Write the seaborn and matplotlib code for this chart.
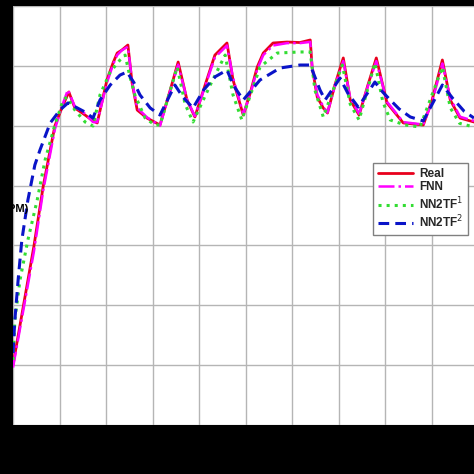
import numpy as np
import pandas as pd
import matplotlib
matplotlib.use("Agg")
import matplotlib.pyplot as plt
import seaborn as sns

# Speed traces (time in s, speed in RPM)
t_real = [0.00, 0.45, 0.65, 0.90, 1.05, 1.20, 1.33, 1.55, 1.72, 1.81, 2.02, 2.15, 2.24, 2.34,
          2.47, 2.56, 2.67, 2.88, 3.16, 3.38, 3.55, 3.74, 3.91, 4.13, 4.34, 4.60, 4.73, 4.95,
          5.10, 5.25, 5.38, 5.59, 5.89, 6.17, 6.39, 6.43, 6.54, 6.67, 6.76, 6.92, 7.10, 7.25,
          7.44, 7.63, 7.81, 8.04, 8.39, 8.82, 9.01, 9.23, 9.40, 9.61, 9.91]
rpm_real = [501, 1495, 1996, 2498, 2648, 2782, 2648, 2589, 2540, 2523, 2882, 3024, 3107, 3132,
            3174, 2857, 2631, 2564, 2506, 2798, 3032, 2715, 2573, 2840, 3090, 3191, 2882, 2589,
            2773, 2990, 3107, 3191, 3199, 3195, 3216, 2990, 2740, 2648, 2606, 2840, 3066, 2715,
            2589, 2840, 3066, 2690, 2523, 2506, 2715, 3049, 2715, 2564, 2531]

t_fnn = [0.00, 0.45, 0.65, 0.90, 1.05, 1.18, 1.33, 1.55, 1.72, 1.81, 2.02, 2.15, 2.24, 2.34,
         2.47, 2.56, 2.67, 2.88, 3.16, 3.38, 3.55, 3.74, 3.91, 4.13, 4.34, 4.60, 4.73, 4.95,
         5.10, 5.25, 5.38, 5.59, 5.89, 6.17, 6.39, 6.43, 6.54, 6.67, 6.76, 6.92, 7.10, 7.25,
         7.44, 7.63, 7.81, 8.04, 8.39, 8.82, 9.01, 9.23, 9.40, 9.61, 9.91]
rpm_fnn = [480, 1450, 1960, 2470, 2660, 2800, 2660, 2600, 2530, 2530, 2860, 3010, 3090, 3130,
           3160, 2870, 2650, 2570, 2500, 2790, 3010, 2720, 2580, 2830, 3070, 3170, 2900, 2600,
           2760, 2970, 3090, 3170, 3190, 3190, 3200, 3000, 2760, 2660, 2610, 2830, 3040, 2730,
           2600, 2830, 3040, 2700, 2530, 2510, 2700, 3020, 2730, 2575, 2540]

t_tf1 = [0.00, 0.04, 0.15, 0.32, 0.52, 0.69, 0.90, 1.08, 1.16, 1.33, 1.55, 1.72, 1.87, 2.09,
         2.30, 2.41, 2.52, 2.62, 2.84, 3.05, 3.16, 3.53, 3.70, 3.87, 4.24, 4.56, 4.73, 4.92,
         5.31, 5.68, 6.17, 6.39, 6.49, 6.67, 7.08, 7.25, 7.44, 7.78, 7.95, 8.11, 8.43, 8.75,
         9.23, 9.40, 9.60, 9.91]
rpm_tf1 = [543, 877, 1211, 1545, 1879, 2214, 2506, 2715, 2740, 2631, 2531, 2498, 2757, 2949,
           3049, 3090, 2900, 2757, 2564, 2506, 2506, 2990, 2680, 2531, 2840, 3090, 2757, 2548,
           2990, 3107, 3116, 3116, 2798, 2573, 3007, 2680, 2548, 3024, 2700, 2548, 2506, 2489,
           2990, 2650, 2520, 2489]

t_tf2 = [0.00, 0.04, 0.11, 0.19, 0.32, 0.47, 0.58, 0.80, 1.01, 1.18, 1.55, 1.72, 1.87, 2.09,
         2.30, 2.45, 2.60, 2.73, 2.95, 3.16, 3.48, 3.65, 3.87, 4.10, 4.35, 4.60, 4.75, 4.95,
         5.31, 5.74, 6.17, 6.39, 6.60, 6.71, 7.03, 7.20, 7.42, 7.78, 7.95, 8.11, 8.30, 8.54,
         8.82, 9.23, 9.45, 9.70, 9.91]
rpm_tf2 = [601, 877, 1211, 1545, 1879, 2172, 2297, 2523, 2631, 2690, 2614, 2564, 2715, 2840,
           2923, 2949, 2860, 2757, 2648, 2589, 2840, 2740, 2648, 2800, 2910, 2965, 2830, 2715,
           2882, 2982, 3007, 3007, 2798, 2715, 2898, 2770, 2656, 2865, 2780, 2715, 2640, 2573,
           2540, 2840, 2730, 2620, 2564]

x_ticks = list(range(0, 10))
y_ticks = list(range(0, 3501, 500))

sns.set_style("whitegrid")
plt.rcParams['font.family'] = ['Liberation Sans', 'DejaVu Sans']

fig = plt.figure(figsize=(4.74, 4.74), dpi=100, facecolor='black')
ax = fig.add_axes([13 / 474, 49 / 474, 461 / 474, 419 / 474])
ax.set_facecolor('white')

sns.lineplot(x=t_real, y=rpm_real, ax=ax, color='#e8001c', linewidth=2.0,
             linestyle='-', label='Real')
sns.lineplot(x=t_fnn, y=rpm_fnn, ax=ax, color='#ff00ff', linewidth=1.8,
             linestyle='-.', label='FNN')
sns.lineplot(x=t_tf1, y=rpm_tf1, ax=ax, color='#33dd33', linewidth=2.2,
             linestyle=':', label='NN2TF$^1$')
sns.lineplot(x=t_tf2, y=rpm_tf2, ax=ax, color='#0a14c8', linewidth=2.2,
             linestyle=(0, (3.5, 2)), label='NN2TF$^2$')

ax.set_xlim(0, 9.91)
ax.set_ylim(0, 3500)
ax.set_xticks(x_ticks)
ax.set_yticks(y_ticks)
ax.tick_params(colors='black', labelsize=8, labelleft=False)
ax.grid(True, color='#b5b5b5', linewidth=1.0)
for s in ax.spines.values():
    s.set_visible(False)

# y label, mostly hidden on the dark border
fig.text(28 / 474, (474 - 209) / 474, 'Speed (RPM)', ha='right', va='center',
         fontsize=8, fontweight='bold', color='black')

leg = ax.legend(loc='upper left', bbox_to_anchor=(373 / 474, (474 - 163) / 474),
                bbox_transform=fig.transFigure, prop={'weight': 'bold', 'size': 8.5},
                frameon=True, fancybox=False, framealpha=1, edgecolor='#808080',
                handlelength=3.0, borderpad=0.4, labelspacing=0.15, handletextpad=0.5,
                borderaxespad=0)
leg.get_frame().set_linewidth(1.0)

plt.savefig('out.png', dpi=100, facecolor='black')
